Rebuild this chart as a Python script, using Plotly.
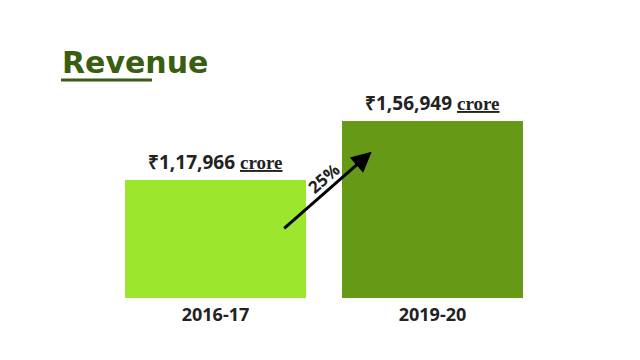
import plotly.graph_objects as go

# Data
years = ["2016-17", "2019-20"]
revenue = [117966, 156949]
bar_colors = ["#9de62e", "#669a16"]
growth_label = "25%"
title_text = "Revenue"
unit = "crore"


def indian_format(n):
    s = str(int(n))
    if len(s) <= 3:
        return s
    last3 = s[-3:]
    rest = s[:-3]
    groups = []
    while len(rest) > 2:
        groups.insert(0, rest[-2:])
        rest = rest[:-2]
    if rest:
        groups.insert(0, rest)
    return ",".join(groups) + "," + last3


# page offset (body margin) compensation
OFF = 8
L, R, T, B = 107 - OFF, 99 + OFF, 60 - OFF, 62 + OFF
pw, ph = 640 - L - R, 360 - T - B


def px_x(x):
    return (x - OFF - L) / pw


def px_y(y):
    return (T + ph - (y - OFF)) / ph


fig = go.Figure()
fig.add_trace(go.Bar(
    x=years, y=revenue, marker=dict(color=bar_colors, line=dict(width=0)),
    hoverinfo="skip",
))

for yr, v in zip(years, revenue):
    fig.add_annotation(
        x=yr, y=v, xref="x", yref="y", yanchor="bottom", yshift=3,
        showarrow=False,
        text=("<b>\u20b9" + indian_format(v) + "</b> "
              "<span style='font-family:\"Liberation Serif\"'><b><u>" + unit + "</u></b></span>"),
        font=dict(family="Open Sans", size=19, color="#222222"),
    )

# Growth arrow
fig.add_annotation(
    x=0.7198, y=136663, xref="x", yref="y",
    ax=-89, ay=78, axref="pixel", ayref="pixel",
    showarrow=True, arrowhead=2, arrowsize=1.35, arrowwidth=3, arrowcolor="#000000",
    text="",
)
fig.add_annotation(
    x=0.4954, y=119286, xref="x", yref="y", showarrow=False,
    text="<b>" + growth_label + "</b>", textangle=-41,
    font=dict(family="Open Sans", size=17, color="#222222"),
)

# Title with underline
fig.add_annotation(
    xref="paper", yref="paper", x=px_x(60), y=px_y(63),
    xanchor="left", yanchor="middle", showarrow=False, text=title_text,
    font=dict(family="DejaVu Sans", size=30, color="#3a5e10", weight="bold"),
)
fig.add_shape(type="line", xref="paper", yref="paper",
              x0=px_x(61), x1=px_x(152), y0=px_y(80), y1=px_y(80),
              line=dict(color="#3a5e10", width=3))

fig.update_layout(
    width=640, height=360,
    margin=dict(l=L, r=R, t=T, b=B),
    paper_bgcolor="white", plot_bgcolor="white",
    bargap=0.166, showlegend=False,
    xaxis=dict(range=[-0.5, 1.5], showgrid=False, zeroline=False, showline=False,
               ticks="outside", ticklen=0, tickcolor="rgba(0,0,0,0)",
               tickfont=dict(family="Open Sans", size=18, color="#222222", weight="bold")),
    yaxis=dict(range=[40000, 197250], showgrid=False, zeroline=False, showline=False,
               showticklabels=False),
)

fig.write_html("out.html")
